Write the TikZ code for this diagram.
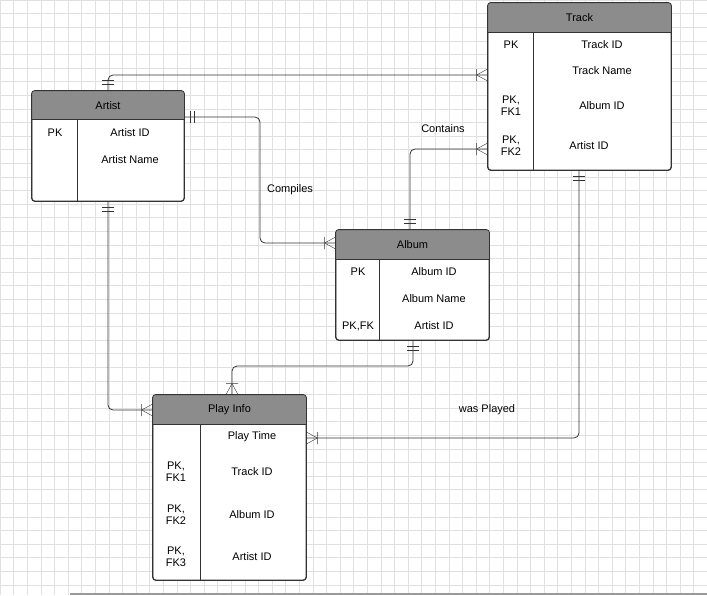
\documentclass[tikz,border=0pt]{standalone}
\usepackage{fontspec}
\setmainfont{Liberation Sans}
\usetikzlibrary{decorations.markings}
\definecolor{hdrgray}{HTML}{8C8C8C}
\tikzstyle{ent} = [draw=black!80, fill=white, thick, rectangle, rounded corners=3pt, inner sep=0pt]
\tikzstyle{fld} = [font=\fontsize{11}{12}\selectfont, align=center, inner sep=1pt]
\tikzstyle{rel} = [draw=black!80, thick, rounded corners=5pt]
\tikzstyle{many end} = [postaction={decorate, decoration={markings, mark=at position 1 with {%
    \draw[black!80, thin] (-11pt,0) -- (0,6pt) (-11pt,0) -- (0,-6pt) (-11pt,6pt) -- (-11pt,-6pt);}}}]
\tikzstyle{one start} = [postaction={decorate, decoration={markings, mark=at position 0 with {%
    \draw[black!80, thin] (6pt,6pt) -- (6pt,-6pt) (10pt,6pt) -- (10pt,-6pt);}}}]
% header strip of an entity box
\newcommand{\entityhead}[3]{%
  \fill[hdrgray, rounded corners=3pt] (#1.north west) rectangle ([yshift=-#2]#1.north east);
  \fill[hdrgray] ([yshift=-6]#1.north west) rectangle ([yshift=-#2]#1.north east);
  \draw[black!80, thick, rounded corners=3pt] (#1.south west) rectangle (#1.north east);
  \draw[black!80, thick] ([yshift=-#2]#1.north west) -- ([yshift=-#2]#1.north east);
  \node[fld] at ([yshift=-#2/2]#1.north) {#3};}

\begin{document}
\begin{tikzpicture}[x=1pt, y=-1pt]
\useasboundingbox (0,0) rectangle (707,595);
\fill[white] (0,0) rectangle (707,595);
\foreach \g in {0,1,...,52} {
  \draw[black!12] (\g*13.6,0) -- (\g*13.6,595);
  \draw[black!12] (0,\g*13.6) -- (707,\g*13.6);
}
\draw[black!40, line width=2pt] (70,594) -- (707,594);

% entities
\node[ent, minimum width=183, minimum height=167] (track) at (579.5,86.5) {};
\entityhead{track}{30}{Track}
\draw[black!80, thick] (533,33) -- (533,170);
\node[fld] at (511,45) {PK};       \node[fld] at (602,45) {Track ID};
\node[fld] at (602,71) {Track Name};
\node[fld] at (511,106) {PK,\\FK1}; \node[fld] at (602,106) {Album ID};
\node[fld] at (511,146) {PK,\\FK2}; \node[fld] at (589,146) {Artist ID};

\node[ent, minimum width=152, minimum height=110] (artist) at (108,146) {};
\entityhead{artist}{29}{Artist}
\draw[black!80, thick] (77,120) -- (77,201);
\node[fld] at (55,133) {PK};  \node[fld] at (130,133) {Artist ID};
\node[fld] at (130,160) {Artist Name};

\node[ent, minimum width=153, minimum height=110] (album) at (412.5,285) {};
\entityhead{album}{30}{Album}
\draw[black!80, thick] (379,260) -- (379,340);
\node[fld] at (358,272) {PK};    \node[fld] at (434,272) {Album ID};
\node[fld] at (434,299) {Album Name};
\node[fld] at (358,326) {PK,FK}; \node[fld] at (434,326) {Artist ID};

\node[ent, minimum width=153, minimum height=185] (play) at (229.5,487.5) {};
\entityhead{play}{30}{Play Info}
\draw[black!80, thick] (200,425) -- (200,580);
\node[fld] at (252,437) {Play Time};
\node[fld] at (176,472) {PK,\\FK1}; \node[fld] at (252,472) {Track ID};
\node[fld] at (176,515) {PK,\\FK2}; \node[fld] at (252,515) {Album ID};
\node[fld] at (176,557) {PK,\\FK3}; \node[fld] at (252,557) {Artist ID};

% relationships
\draw[rel, one start, many end] (artist.north) |- (track.west |- 0,75);
\draw[rel, one start, many end] (artist.east |- 0,117) -- (260,117) |- (album.west |- 0,243);
\draw[rel, one start, many end] (album.north -| 410,0) |- (track.west |- 0,149);
\draw[rel, one start, many end] (artist.south) |- (play.west |- 0,410);
\draw[rel, one start, many end] (album.south -| 413,0) -- (413,366) -| (play.north -| 232,0);
\draw[rel, one start, many end] (track.south -| 579,0) |- (play.east |- 0,438);

\node[fld] (compiles) at (290,190) {Compiles};
\node[fld] (contains) at (443,129) {Contains};
\node[fld] (played) at (487,410) {was Played};
\end{tikzpicture}
\end{document}
